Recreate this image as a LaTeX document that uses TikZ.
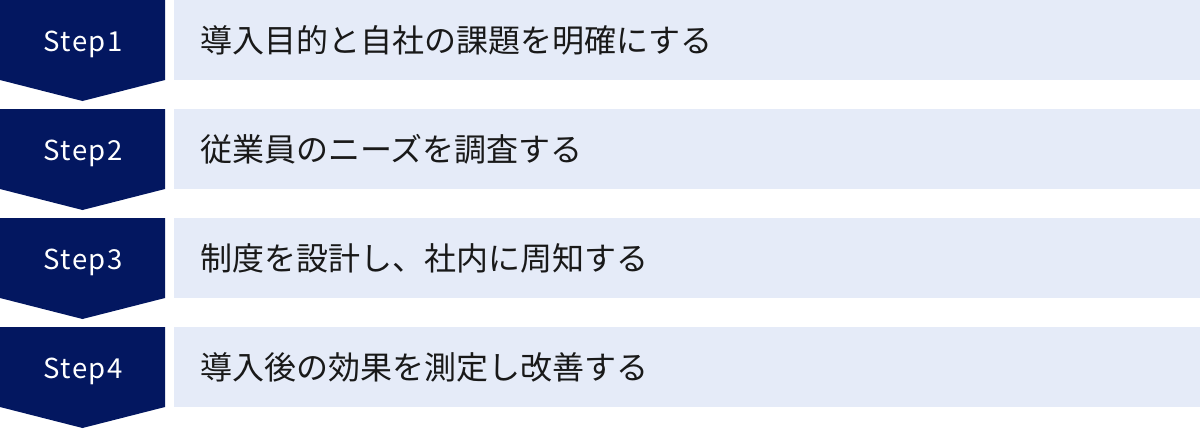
\documentclass[tikz,border=0pt]{standalone}
\usepackage{fontspec}
\setmainfont{Noto Sans CJK JP}
\newfontfamily\stepfont[LetterSpace=6]{Noto Sans CJK JP}
\definecolor{navy}{RGB}{3,23,96}
\definecolor{lightbg}{RGB}{229,235,248}
\tikzset{
  chev/.style={fill=navy, draw=none},
  bar/.style={fill=lightbg, draw=none},
  steplabel/.style={text=white, inner sep=0pt, anchor=base, font=\stepfont\fontsize{27.5}{28}\selectfont},
  desc/.style={text=black!90, inner sep=0pt, anchor=base west, font=\fontsize{32}{32}\selectfont}
}
\begin{document}
\begin{tikzpicture}[x=1pt,y=-1pt]
\useasboundingbox (0,0) rectangle (1200,429);
\foreach \i/\t in {0/導入目的と自社の課題を明確にする,1/従業員のニーズを調査する,2/制度を設計し、社内に周知する,3/導入後の効果を測定し改善する}{
  \pgfmathsetmacro{\top}{\i*109}
  \pgfmathtruncatemacro{\n}{\i+1}
  \fill[chev] (0,\top) -- (165,\top) -- (165,\top+80) -- (82.5,\top+101) -- (0,\top+80) -- cycle;
  \fill[bar] (174,\top) rectangle (1200,\top+80);
  \node[steplabel] (s\n) at (83,\top+51) {Step\n};
  \node[desc] (d\n) at (200,\top+52) {\t};
}
\end{tikzpicture}
\end{document}
